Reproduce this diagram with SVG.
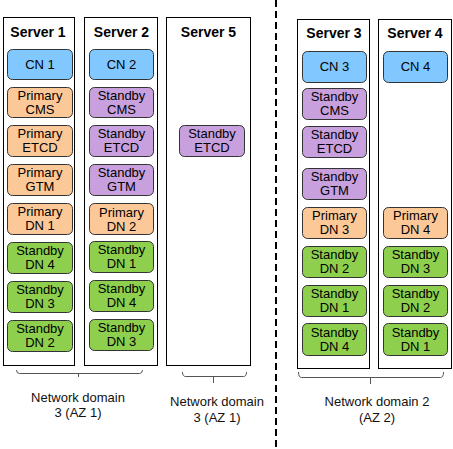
<svg xmlns="http://www.w3.org/2000/svg" width="453" height="449" viewBox="0 0 453 449">
<style>
.srv{fill:#fff;stroke:#000;stroke-width:1}
.ttl{font-family:"Liberation Sans",Arial,sans-serif;font-size:14px;font-weight:bold;fill:#000;text-anchor:middle}
.n{stroke:#333;stroke-width:1}
.cn{fill:#80C8FF}
.pr{fill:#FCC898}
.sb{fill:#C8A0DE}
.dn{fill:#8ED04E}
.t{font-family:"Liberation Sans",Arial,sans-serif;font-size:13px;fill:#000;text-anchor:middle}
.lbl{font-family:"Liberation Sans",Arial,sans-serif;font-size:13px;fill:#111;text-anchor:middle}
.br{fill:none;stroke:#555;stroke-width:1}
</style>
<rect width="453" height="449" fill="#fff"/>
<g id="server1">
<rect class="srv" x="3.5" y="17.5" width="71" height="348"/>
<text class="ttl" x="38" y="37">Server 1</text>
<g id="cn1"><rect class="n cn" x="7.5" y="49.5" width="65" height="30" rx="5"/><text class="t" x="40" y="69">CN 1</text></g>
<g id="s1-cms"><rect class="n pr" x="7.5" y="87.5" width="65" height="30" rx="5"/><text class="t" x="40" y="100">Primary</text><text class="t" x="40" y="114">CMS</text></g>
<g id="s1-etcd"><rect class="n pr" x="7.5" y="125.5" width="65" height="31" rx="5"/><text class="t" x="40" y="138">Primary</text><text class="t" x="40" y="152">ETCD</text></g>
<g id="s1-gtm"><rect class="n pr" x="7.5" y="164.5" width="65" height="31" rx="5"/><text class="t" x="40" y="177">Primary</text><text class="t" x="40" y="191">GTM</text></g>
<g id="s1-dn1"><rect class="n pr" x="7.5" y="203.5" width="65" height="31" rx="5"/><text class="t" x="40" y="216">Primary</text><text class="t" x="40" y="230">DN 1</text></g>
<g id="s1-dn4"><rect class="n dn" x="7.5" y="242.5" width="65" height="31" rx="5"/><text class="t" x="40" y="255">Standby</text><text class="t" x="40" y="269">DN 4</text></g>
<g id="s1-dn3"><rect class="n dn" x="7.5" y="281.5" width="65" height="31" rx="5"/><text class="t" x="40" y="294">Standby</text><text class="t" x="40" y="308">DN 3</text></g>
<g id="s1-dn2"><rect class="n dn" x="7.5" y="320.5" width="65" height="31" rx="5"/><text class="t" x="40" y="333">Standby</text><text class="t" x="40" y="347">DN 2</text></g>
</g>
<g id="server2">
<rect class="srv" x="84.5" y="17.5" width="73" height="348"/>
<text class="ttl" x="121.5" y="37">Server 2</text>
<g id="cn2"><rect class="n cn" x="89.5" y="49.5" width="64" height="30" rx="5"/><text class="t" x="121.5" y="69">CN 2</text></g>
<g id="s2-cms"><rect class="n sb" x="89.5" y="87.5" width="64" height="30" rx="5"/><text class="t" x="121.5" y="100">Standby</text><text class="t" x="121.5" y="114">CMS</text></g>
<g id="s2-etcd"><rect class="n sb" x="89.5" y="125.5" width="64" height="31" rx="5"/><text class="t" x="121.5" y="138">Standby</text><text class="t" x="121.5" y="152">ETCD</text></g>
<g id="s2-gtm"><rect class="n sb" x="89.5" y="164.5" width="64" height="31" rx="5"/><text class="t" x="121.5" y="177">Standby</text><text class="t" x="121.5" y="191">GTM</text></g>
<g id="s2-dn2"><rect class="n pr" x="89.5" y="203.5" width="64" height="31" rx="5"/><text class="t" x="121.5" y="217">Primary</text><text class="t" x="121.5" y="231">DN 2</text></g>
<g id="s2-dn1"><rect class="n dn" x="89.5" y="241.5" width="64" height="31" rx="5"/><text class="t" x="121.5" y="254">Standby</text><text class="t" x="121.5" y="268">DN 1</text></g>
<g id="s2-dn4"><rect class="n dn" x="89.5" y="280.5" width="64" height="31" rx="5"/><text class="t" x="121.5" y="293">Standby</text><text class="t" x="121.5" y="307">DN 4</text></g>
<g id="s2-dn3"><rect class="n dn" x="89.5" y="319.5" width="64" height="31" rx="5"/><text class="t" x="121.5" y="332">Standby</text><text class="t" x="121.5" y="346">DN 3</text></g>
</g>
<g id="server5">
<rect class="srv" x="166.5" y="17.5" width="84" height="348"/>
<text class="ttl" x="208.5" y="37">Server 5</text>
<g id="s5-etcd"><rect class="n sb" x="179.5" y="125.5" width="65" height="31" rx="5"/><text class="t" x="212" y="138">Standby</text><text class="t" x="212" y="152">ETCD</text></g>
</g>
<g id="server3">
<rect class="srv" x="297.5" y="19.5" width="72" height="349"/>
<text class="ttl" x="334" y="38">Server 3</text>
<g id="cn3"><rect class="n cn" x="302.5" y="51.5" width="64" height="31" rx="5"/><text class="t" x="334.5" y="71">CN 3</text></g>
<g id="s3-cms"><rect class="n sb" x="302.5" y="88.5" width="64" height="31" rx="5"/><text class="t" x="334.5" y="101">Standby</text><text class="t" x="334.5" y="115">CMS</text></g>
<g id="s3-etcd"><rect class="n sb" x="302.5" y="126.5" width="64" height="31" rx="5"/><text class="t" x="334.5" y="139">Standby</text><text class="t" x="334.5" y="153">ETCD</text></g>
<g id="s3-gtm"><rect class="n sb" x="302.5" y="168.5" width="64" height="31" rx="5"/><text class="t" x="334.5" y="181">Standby</text><text class="t" x="334.5" y="195">GTM</text></g>
<g id="s3-dn3"><rect class="n pr" x="302.5" y="207.5" width="64" height="31" rx="5"/><text class="t" x="334.5" y="220">Primary</text><text class="t" x="334.5" y="234">DN 3</text></g>
<g id="s3-dn2"><rect class="n dn" x="302.5" y="246.5" width="64" height="31" rx="5"/><text class="t" x="334.5" y="259">Standby</text><text class="t" x="334.5" y="273">DN 2</text></g>
<g id="s3-dn1"><rect class="n dn" x="302.5" y="285.5" width="64" height="31" rx="5"/><text class="t" x="334.5" y="298">Standby</text><text class="t" x="334.5" y="312">DN 1</text></g>
<g id="s3-dn4"><rect class="n dn" x="302.5" y="323.5" width="64" height="32" rx="5"/><text class="t" x="334.5" y="337">Standby</text><text class="t" x="334.5" y="351">DN 4</text></g>
</g>
<g id="server4">
<rect class="srv" x="378.5" y="19.5" width="73" height="349"/>
<text class="ttl" x="415" y="38">Server 4</text>
<g id="cn4"><rect class="n cn" x="383.5" y="51.5" width="64" height="31" rx="5"/><text class="t" x="415.5" y="71">CN 4</text></g>
<g id="s4-dn4"><rect class="n pr" x="383.5" y="207.5" width="64" height="31" rx="5"/><text class="t" x="415.5" y="220">Primary</text><text class="t" x="415.5" y="234">DN 4</text></g>
<g id="s4-dn3"><rect class="n dn" x="383.5" y="246.5" width="64" height="31" rx="5"/><text class="t" x="415.5" y="259">Standby</text><text class="t" x="415.5" y="273">DN 3</text></g>
<g id="s4-dn2"><rect class="n dn" x="383.5" y="285.5" width="64" height="31" rx="5"/><text class="t" x="415.5" y="298">Standby</text><text class="t" x="415.5" y="312">DN 2</text></g>
<g id="s4-dn1"><rect class="n dn" x="383.5" y="323.5" width="64" height="32" rx="5"/><text class="t" x="415.5" y="337">Standby</text><text class="t" x="415.5" y="351">DN 1</text></g>
</g>
<g id="connectors">
<line x1="276" y1="0" x2="276" y2="449" stroke="#000" stroke-width="2" stroke-dasharray="7 4"/>
<path class="br" d="M16.5 370 Q16.5 373.5 19.5 373.5 H139.5 Q142.5 373.5 142.5 370 M78.5 373.5 V377"/>
<path class="br" d="M182.5 372 Q182.5 376.5 185.5 376.5 H243.5 Q246.5 376.5 246.5 372 M213.5 376.5 V383"/>
<path class="br" d="M298.5 372 Q298.5 377.5 301.5 377.5 H440.5 Q443.5 377.5 443.5 372 M370.5 377.5 V384"/>
</g>
<g id="labels">
<text class="lbl" x="78" y="401.5">Network domain</text>
<text class="lbl" x="78" y="417">3 (AZ 1)</text>
<text class="lbl" x="217" y="405.5">Network domain</text>
<text class="lbl" x="217" y="421.5">3 (AZ 1)</text>
<text class="lbl" x="377" y="405.5">Network domain 2</text>
<text class="lbl" x="377" y="421.5">(AZ 2)</text>
</g>
</svg>
